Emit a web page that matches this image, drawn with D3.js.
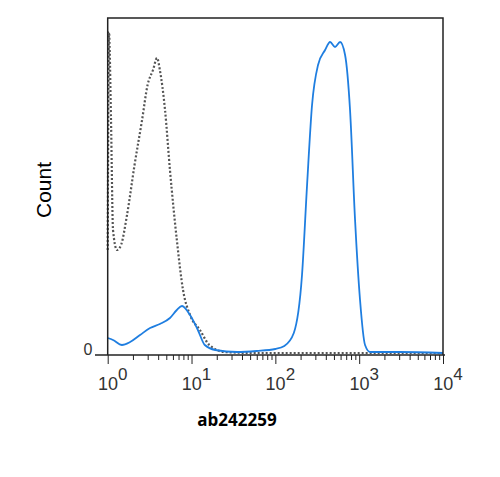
<!DOCTYPE html>
<html><head><meta charset="utf-8">
<script src="https://cdn.jsdelivr.net/npm/d3@7"></script>
<style>body{margin:0;background:#fff}</style>
</head><body><div id="chart"></div>
<script>
// fluorescence (x) and count (y)
const isoX = [1.0, 1.036, 1.095, 1.157, 1.291, 1.442, 1.70, 2.09, 2.57, 2.99, 3.47, 3.88, 4.19, 4.83, 5.53, 6.68, 7.92, 9.6, 12.6, 16.3, 25, 60, 150, 600, 10000]
const isoY = [105, 323, 235, 125, 105, 110, 140, 190, 235, 270, 285, 297, 285, 245, 185, 115, 65, 40, 25, 10, 3, 2, 2, 2, 2]
const abX = [1.0, 1.157, 1.48, 1.85, 2.43, 3.2, 4.19, 5.53, 6.68, 7.7, 9.6, 11.9, 14.4, 19.2, 35, 60, 100, 128, 166, 208, 239, 274, 323, 392, 450, 515, 592, 679, 778, 893, 1024, 1175, 1350, 3000, 10000]
const abY = [17, 15, 10, 13, 20, 27, 31, 37, 45, 49, 40, 25, 10, 5, 3, 4, 6, 9, 22, 80, 170, 250, 290, 305, 313, 308, 313, 300, 245, 135, 55, 10, 3, 3, 2]
const tickVals = [1, 10, 100, 1000, 10000]
const tickExp = ["0", "1", "2", "3", "4"]

const m = { left: 107.7, right: 443, top: 18, bottom: 355 }

const svg = d3.select("#chart").append("svg")
    .attr("width", 500).attr("height", 477)

const x = d3.scaleLog().domain([1, 10000]).range([m.left, m.right])
const y = d3.scaleLinear().domain([0, 337]).range([m.bottom, m.top])

const line = d3.line().x(d => x(d[0])).y(d => y(d[1])).curve(d3.curveMonotoneX)

svg.append("path")
    .datum(isoX.map((v, i) => [v, isoY[i]]))
    .attr("d", line).attr("fill", "none")
    .attr("stroke", "#555").attr("stroke-width", 2.2)
    .attr("stroke-dasharray", "2,2")

svg.append("path")
    .datum(abX.map((v, i) => [v, abY[i]]))
    .attr("d", line).attr("fill", "none")
    .attr("stroke", "#1f7ee0").attr("stroke-width", 1.8)

// frame
svg.append("path")
    .attr("d", `M${m.left},${m.bottom}V${m.top}H${m.right}V${m.bottom}`)
    .attr("fill", "none").attr("stroke", "#222").attr("stroke-width", 1.5)
svg.append("line").attr("x1", 95).attr("x2", m.right + 2).attr("y1", m.bottom).attr("y2", m.bottom)
    .attr("stroke", "#222").attr("stroke-width", 1.5)

// x axis ticks
const xAxis = d3.axisBottom(x).tickSize(5).tickFormat("")
const gx = svg.append("g").attr("transform", `translate(0,${m.bottom})`).call(xAxis)
gx.select(".domain").remove()
gx.selectAll(".tick line").attr("stroke", "#222")
    .attr("y2", d => tickVals.includes(d) ? 9 : 5)

const labels = svg.append("g").attr("font-family", "Arial, Liberation Sans, sans-serif").attr("fill", "#333")
tickVals.forEach((v, i) => {
    const t = labels.append("text").attr("x", x(v) + 5).attr("y", 390)
        .attr("text-anchor", "middle").attr("font-size", 18)
    t.append("tspan").text("10")
    t.append("tspan").attr("dy", -10).attr("font-size", 17).text(tickExp[i])
})
labels.append("text").attr("x", 88).attr("y", 355).attr("font-size", 16)
    .attr("text-anchor", "middle").text("0")

svg.append("text").attr("transform", "translate(51,190) rotate(-90)")
    .attr("text-anchor", "middle").attr("font-family", "Arial, Liberation Sans, sans-serif")
    .attr("font-size", 21).text("Count")

svg.append("text").attr("x", 237).attr("y", 426)
    .attr("text-anchor", "middle").attr("font-family", "Segoe UI, Open Sans, sans-serif")
    .attr("font-weight", "bold").attr("font-size", 17).text("ab242259")
</script></body></html>
